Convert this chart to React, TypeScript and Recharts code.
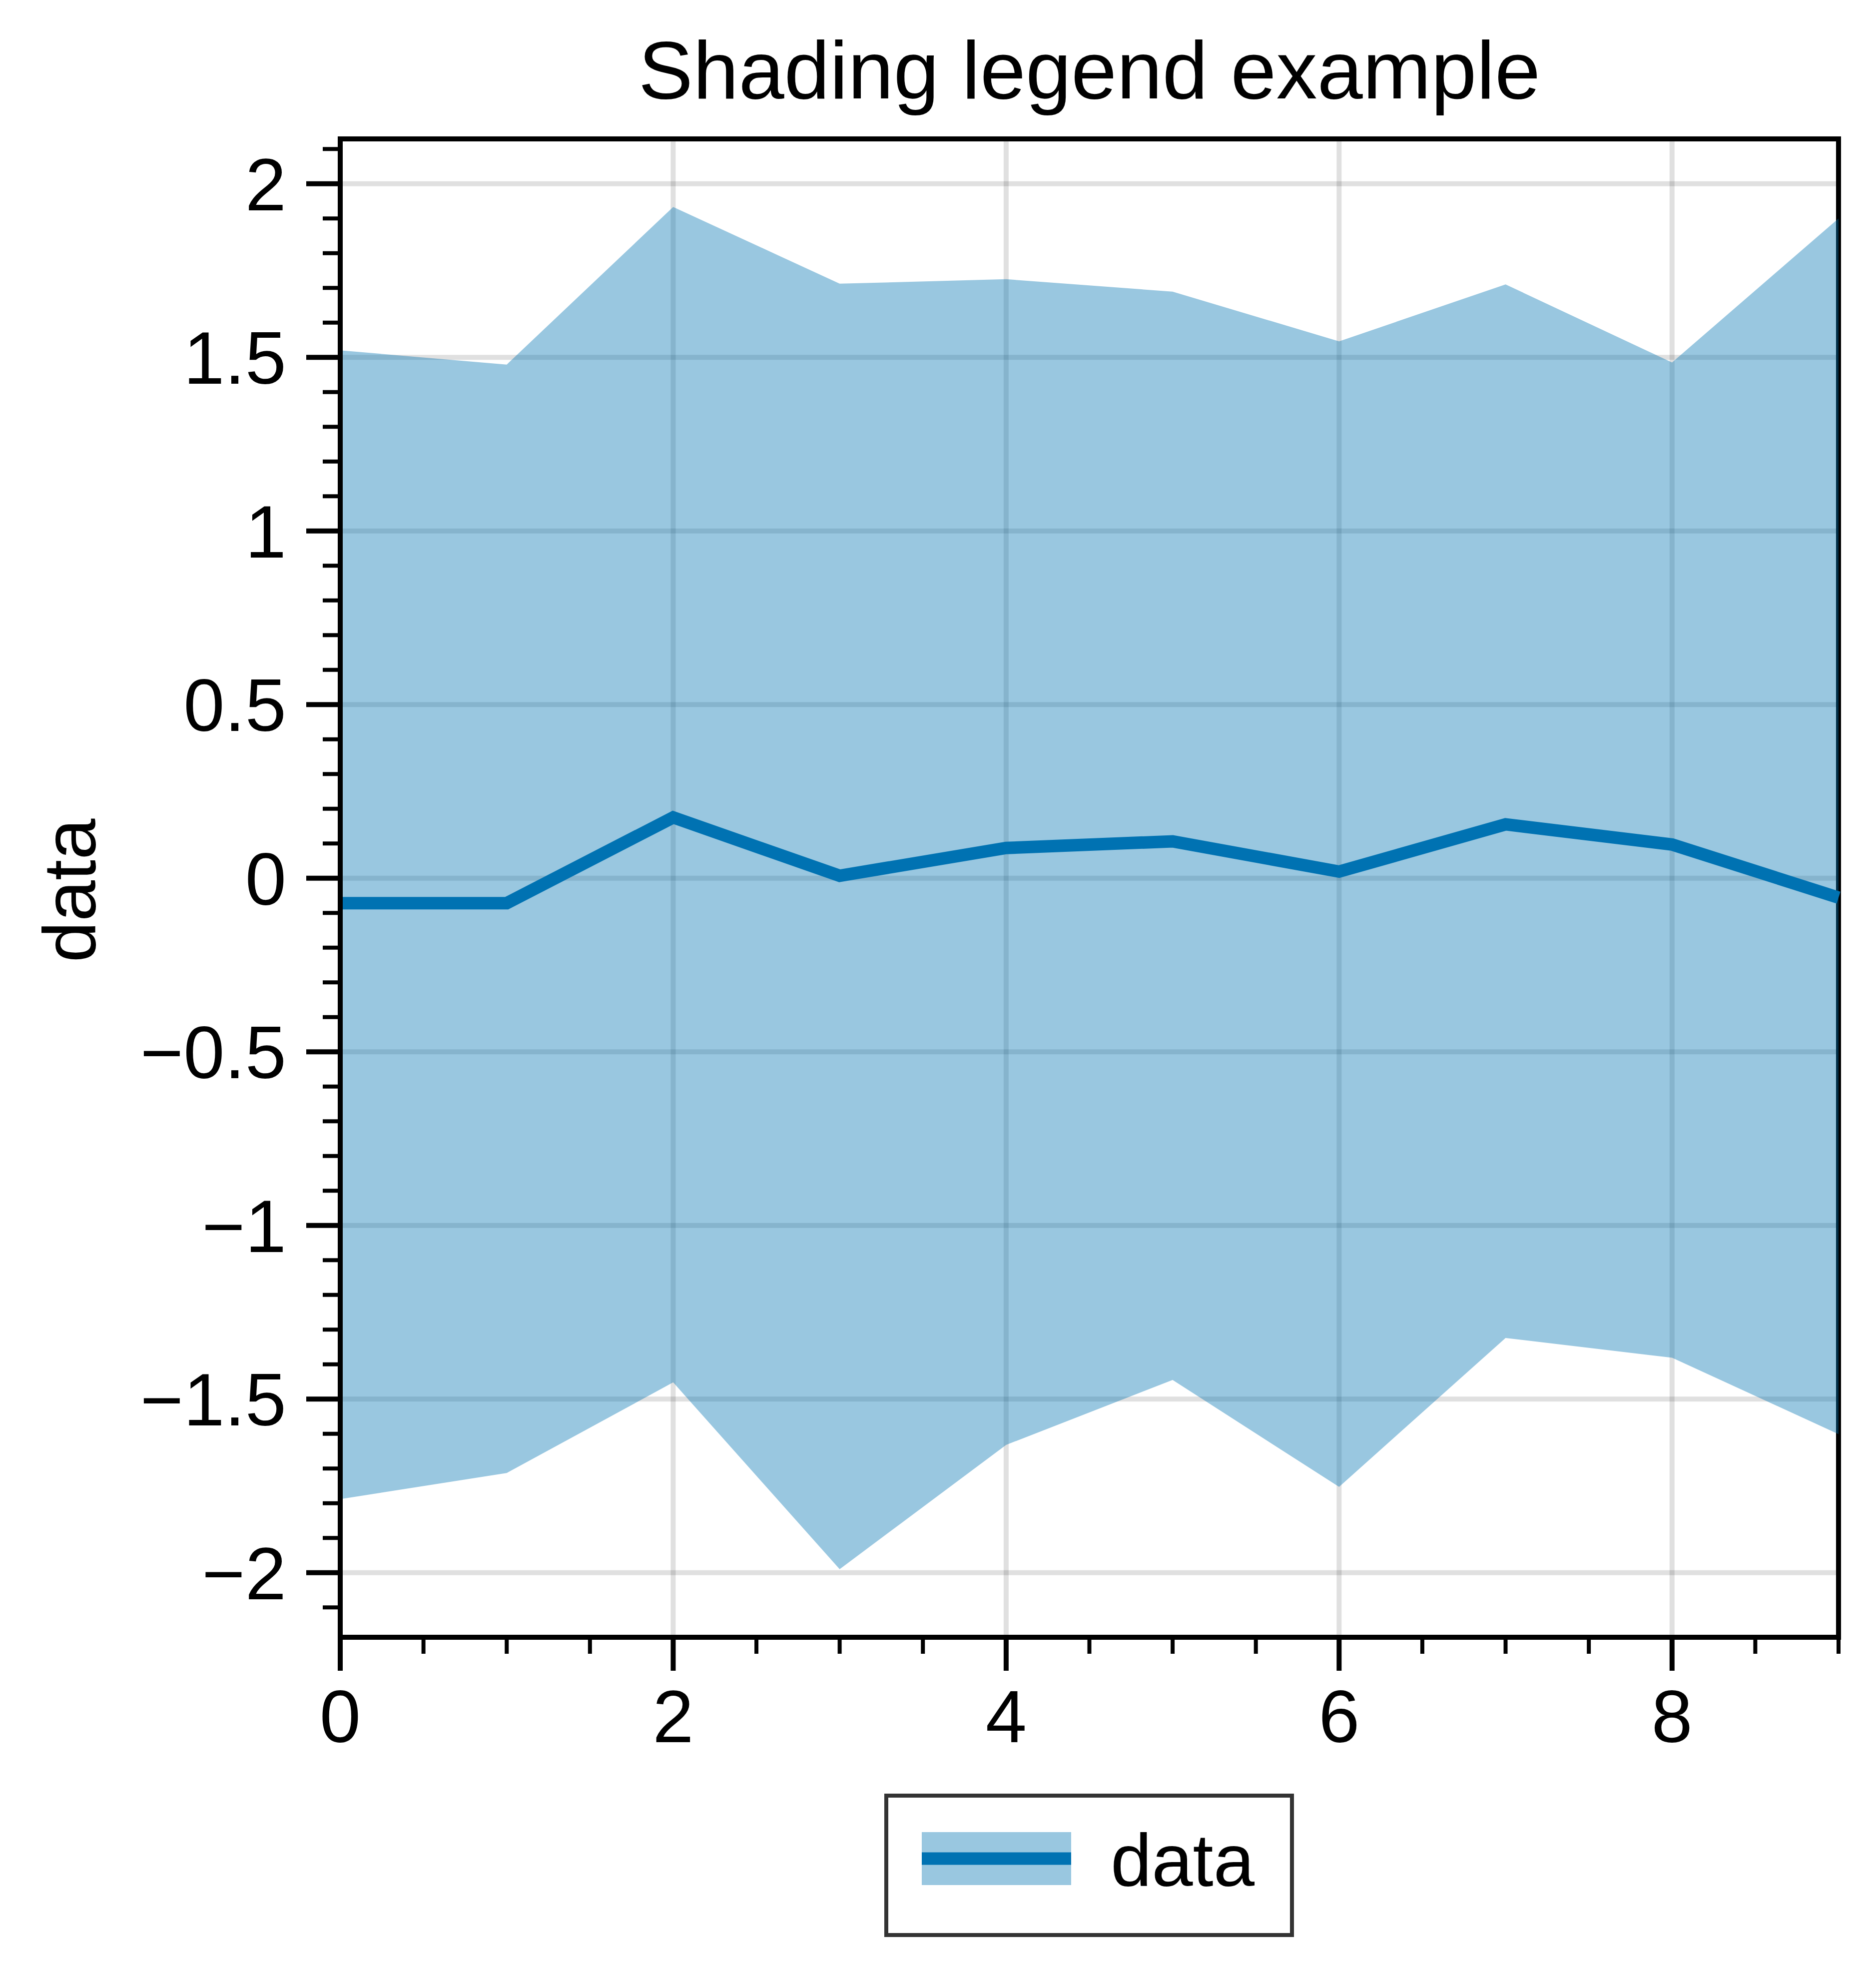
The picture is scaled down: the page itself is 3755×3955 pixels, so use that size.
import { ComposedChart, Area, Line, XAxis, YAxis, CartesianGrid, Legend, Customized } from "recharts";

const xValues = [0, 1, 2, 3, 4, 5, 6, 7, 8, 9];
const meanValues = [-0.072, -0.072, 0.175, 0.007, 0.087, 0.106, 0.019, 0.155, 0.097, -0.056];
const upperValues = [1.52, 1.479, 1.933, 1.712, 1.725, 1.689, 1.546, 1.71, 1.485, 1.9];
const lowerValues = [-1.788, -1.713, -1.452, -1.99, -1.632, -1.445, -1.753, -1.324, -1.381, -1.601];

const xMajorTicks = [0, 2, 4, 6, 8];
const xAllTicks = [0, 0.5, 1, 1.5, 2, 2.5, 3, 3.5, 4, 4.5, 5, 5.5, 6, 6.5, 7, 7.5, 8, 8.5, 9];
const yMajorTicks = [-2, -1.5, -1, -0.5, 0, 0.5, 1, 1.5, 2];
const yAllTicks = Array.from({ length: 43 }, (_, i) => (i - 21) / 10);

const BLUE = "#0072B2";
const FONT = "'Liberation Sans', Arial, Helvetica, sans-serif";
const Y_DOMAIN: [number, number] = [-2.186, 2.129];

const W = 3755;
const H = 3955;
const MARGIN = { top: 278, right: 75, bottom: 378, left: 0 };
const Y_AXIS_W = 681;
const X_AXIS_H = 300;

const rows = xValues.map((x, i) => ({
  x,
  mean: meanValues[i],
  band: [lowerValues[i], upperValues[i]],
}));

const fmt = (v: number) => {
  const r = Math.round(v * 10) / 10;
  return r < 0 ? "\u2212" + Math.abs(r) : String(r);
};

const YTick = (props: any) => {
  const { x, y, payload } = props;
  const v = payload.value;
  const major = Math.abs(v * 2 - Math.round(v * 2)) < 1e-6;
  return (
    <g>
      <line x1={x - (major ? 68 : 35)} x2={x} y1={y} y2={y} stroke="#000" strokeWidth={major ? 10 : 8} />
      {major && (
        <text x={x - 108} y={y + 53} textAnchor="end" fontSize={148} fontFamily={FONT} fill="#000">
          {fmt(v)}
        </text>
      )}
    </g>
  );
};

const XTick = (props: any) => {
  const { x, y, payload } = props;
  const v = payload.value;
  const major = xMajorTicks.includes(v);
  return (
    <g>
      <line x1={x} x2={x} y1={y} y2={y + (major ? 67 : 33)} stroke="#000" strokeWidth={major ? 10 : 8} />
      {major && (
        <text x={x} y={y + 210} textAnchor="middle" fontSize={148} fontFamily={FONT} fill="#000">
          {fmt(v)}
        </text>
      )}
    </g>
  );
};

const LegendBox = () => (
  <svg width={820} height={287} style={{ display: "block" }}>
    <rect x={4} y={4} width={812} height={279} fill="#fff" stroke="#333" strokeWidth={8} />
    <rect x={75} y={77} width={299} height={106} fill={BLUE} fillOpacity={0.4} />
    <line x1={75} x2={374} y1={130} y2={130} stroke={BLUE} strokeWidth={25} />
    <text x={453} y={185} fontSize={148} fontFamily={FONT} fill="#000">
      data
    </text>
  </svg>
);

// title, y label and the axes frame (top/right spines)
const Decor = () => {
  const left = MARGIN.left + Y_AXIS_W;
  const top = MARGIN.top;
  const pw = W - left - MARGIN.right;
  const ph = H - top - MARGIN.bottom - X_AXIS_H;
  return (
    <g>
      <rect x={left} y={top} width={pw} height={ph} fill="none" stroke="#000" strokeWidth={10} />
      <text x={left + pw / 2} y={197} textAnchor="middle" fontSize={164} fontFamily={FONT} fill="#000">
        Shading legend example
      </text>
      <text
        transform={`translate(191,${top + ph / 2 + 5}) rotate(-90)`}
        textAnchor="middle"
        fontSize={148}
        fontFamily={FONT}
        fill="#000"
      >
        data
      </text>
    </g>
  );
};

export default function App() {
  return (
    <div style={{ position: "absolute", left: 0, top: 0, background: "#fff" }}>
      <ComposedChart width={W} height={H} data={rows} margin={MARGIN}>
        <CartesianGrid
          horizontalValues={yMajorTicks}
          verticalValues={xMajorTicks}
          stroke="rgba(0,0,0,0.12)"
          strokeWidth={10}
        />
        <XAxis
          dataKey="x"
          type="number"
          domain={[0, 9]}
          ticks={xAllTicks}
          interval={0}
          height={X_AXIS_H}
          tickSize={0}
          tickMargin={0}
          tickLine={false}
          axisLine={{ stroke: "#000", strokeWidth: 10 }}
          tick={<XTick />}
        />
        <YAxis
          type="number"
          domain={Y_DOMAIN}
          ticks={yAllTicks}
          interval={0}
          width={Y_AXIS_W}
          tickSize={0}
          tickMargin={0}
          tickLine={false}
          axisLine={{ stroke: "#000", strokeWidth: 10 }}
          tick={<YTick />}
        />
        <Area
          dataKey="band"
          type="linear"
          stroke="none"
          fill={BLUE}
          fillOpacity={0.4}
          isAnimationActive={false}
        />
        <Line
          dataKey="mean"
          type="linear"
          stroke={BLUE}
          strokeWidth={25}
          strokeLinejoin="miter"
          dot={false}
          activeDot={false}
          isAnimationActive={false}
        />
        <Legend
          verticalAlign="middle"
          align="center"
          content={() => <LegendBox />}
          wrapperStyle={{ position: "absolute", left: 1770, top: 3590, width: 820, height: 287 }}
        />
        <Customized component={<Decor />} />
      </ComposedChart>
    </div>
  );
}
